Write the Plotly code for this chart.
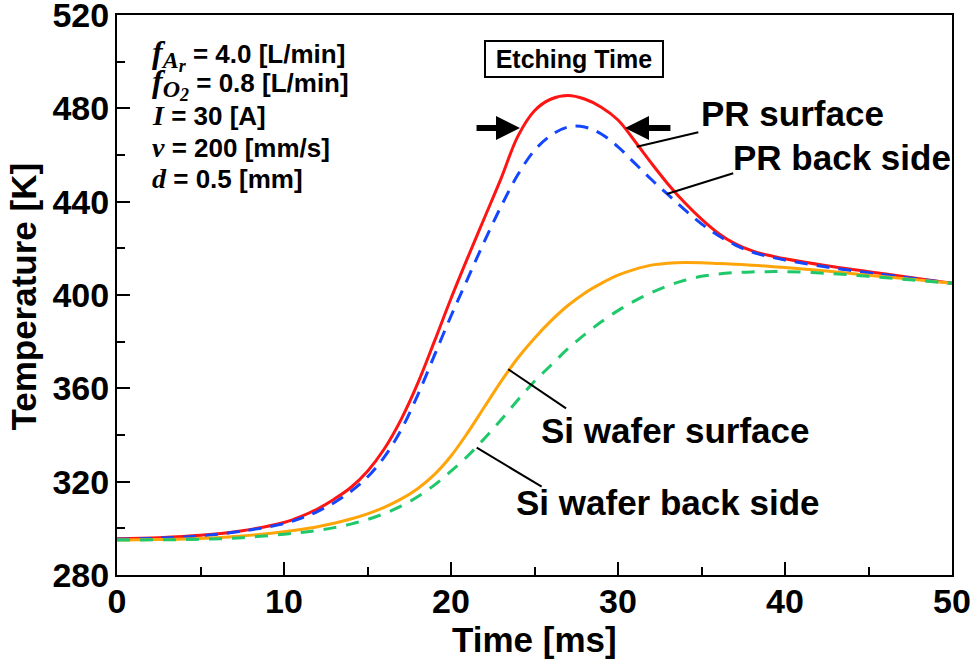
import plotly.graph_objects as go

# ---------------- data ----------------
t_pr_surface = [0, 2.5, 5, 7.5, 10, 11, 12, 13, 14, 15, 16, 17, 18, 19, 20, 21, 22, 23, 24, 25, 26, 27, 28, 29, 30, 31, 32, 33, 34, 35, 36, 37, 38, 39, 40, 42.5, 45, 47.5, 50]
T_pr_surface = [295.5, 296, 297, 299, 302.5, 305, 308.3, 312.5, 317.5, 324.5, 334, 346.5, 362, 380, 398.5, 416, 433, 450, 468, 479, 484, 485.5, 484, 480.5, 475, 466, 456.5, 447.5, 439.5, 432.5, 426.5, 422, 419, 417, 415.5, 412.5, 410, 407.5, 405]

t_pr_back = [0, 2.5, 5, 7.5, 10, 11, 12, 13, 14, 15, 16, 17, 18, 19, 20, 21, 22, 23, 24, 25, 26, 27, 28, 29, 30, 31, 32, 33, 34, 35, 36, 37, 38, 39, 40, 42.5, 45, 47.5, 50]
T_pr_back = [295.3, 295.8, 296.8, 298.8, 302, 304.3, 307.2, 311, 315.8, 322, 330.5, 342, 357, 374, 391, 407, 423, 438, 451.5, 462, 468.5, 472, 472, 469, 463.5, 456.5, 449.5, 443, 436.5, 430.5, 425.5, 421.5, 418.5, 416.5, 415, 412, 409.5, 407.3, 405]

t_si_surface = [0, 2.5, 5, 7.5, 10, 11, 12, 13, 14, 15, 16, 17, 18, 19, 20, 21, 22, 23, 24, 25, 26, 27, 28, 29, 30, 31, 32, 33, 34, 35, 36, 37, 38, 39, 40, 42.5, 45, 47.5, 50]
T_si_surface = [295, 295.2, 295.6, 296.7, 298.5, 299.5, 300.7, 302.2, 304, 306.2, 309, 312.5, 317, 323, 331, 341, 352, 363, 373, 381.5, 389, 395.5, 400.8, 405, 408.5, 411, 412.8, 413.6, 413.9, 413.8, 413.5, 413.2, 412.8, 412.3, 411.8, 410.3, 408.5, 406.8, 405]

t_si_back = [0, 2.5, 5, 7.5, 10, 11, 12, 13, 14, 15, 16, 17, 18, 19, 20, 21, 22, 23, 24, 25, 26, 27, 28, 29, 30, 31, 32, 33, 34, 35, 36, 37, 38, 39, 40, 42.5, 45, 47.5, 50]
T_si_back = [295, 295.1, 295.3, 296, 297.5, 298.2, 299.1, 300.3, 301.8, 303.8, 306.3, 309.5, 313.5, 318.5, 324.5, 331, 338.5, 346.5, 355, 363, 370, 377, 383, 388.5, 393.3, 397.5, 401, 404, 406.3, 408, 409, 409.6, 409.9, 410, 410, 409.3, 408, 406.5, 405]

x_ticks = [0, 10, 20, 30, 40, 50]
y_ticks = [280, 320, 360, 400, 440, 480, 520]

series_names = ["PR surface", "PR back side", "Si wafer surface", "Si wafer back side"]

SERIF = "font-family:'Liberation Serif'"
def m(ch, size):
    return "<span style=\"%s;font-size:%dpx\"><b><i>%s</i></b></span>" % (SERIF, size, ch)

param_lines = [
    m("f", 32) + "<sub>" + m("A", 24) + "<sub>" + m("r", 18) + "</sub></sub><b> = 4.0 [L/min]</b>",
    m("f", 32) + "<sub>" + m("O", 24) + "<sub>" + m("2", 18) + "</sub></sub><b> = 0.8 [L/min]</b>",
    m("I", 28) + "<b> = 30 [A]</b>",
    m("v", 28) + "<b> = 200 [mm/s]</b>",
    m("d", 28) + "<b> = 0.5 [mm]</b>",
]

FONT = "Liberation Sans"

fig = go.Figure()
fig.add_trace(go.Scatter(x=t_pr_surface, y=T_pr_surface, mode="lines", name=series_names[0],
                         line=dict(color="#ff1414", width=3, shape="spline", smoothing=1)))
fig.add_trace(go.Scatter(x=t_pr_back, y=T_pr_back, mode="lines", name=series_names[1],
                         line=dict(color="#1446ff", width=3, dash="13px,9px", shape="spline", smoothing=1)))
fig.add_trace(go.Scatter(x=t_si_surface, y=T_si_surface, mode="lines", name=series_names[2],
                         line=dict(color="#ffa50a", width=3, shape="spline", smoothing=1)))
fig.add_trace(go.Scatter(x=t_si_back, y=T_si_back, mode="lines", name=series_names[3],
                         line=dict(color="#1fc86a", width=3, dash="13px,10px", shape="spline", smoothing=1)))

axis_common = dict(
    showgrid=False, zeroline=False, showline=True, linecolor="black", linewidth=2,
    mirror=True, ticks="inside", ticklen=13, tickwidth=1.5, tickcolor="black",
    ticklabeloverflow="allow", automargin=False,
    tickfont=dict(family=FONT, size=34, color="black", weight="bold"),
)
fig.update_xaxes(range=[0, 50], tickvals=x_ticks, ticklabelstandoff=-5,
                 minor=dict(dtick=5, ticks="inside", ticklen=8, tickwidth=1.5, tickcolor="black"),
                 **axis_common)
fig.update_yaxes(range=[280, 520], tickvals=y_ticks, ticklabelstandoff=-1,
                 minor=dict(dtick=20, ticks="inside", ticklen=8, tickwidth=1.5, tickcolor="black"),
                 **axis_common)

annotations = []
# axis titles
annotations.append(dict(text="<b>Time [ms]</b>", xref="paper", yref="paper", x=0.5, y=-0.116,
                        xanchor="center", yanchor="middle", showarrow=False,
                        font=dict(family=FONT, size=35, color="black")))
annotations.append(dict(text="<b>Temperature [K]</b>", xref="paper", yref="paper", x=-0.112, y=0.498,
                        xanchor="center", yanchor="middle", showarrow=False, textangle=-90,
                        font=dict(family=FONT, size=35, color="black")))
# parameter block
param_y = [503.0, 490.6, 477.1, 463.4, 449.9]
for txt, yy in zip(param_lines, param_y):
    annotations.append(dict(text=txt, x=2.0, y=yy, xanchor="left", yanchor="middle", showarrow=False,
                            font=dict(family=FONT, size=26, color="black")))
# Etching Time box
annotations.append(dict(text="<b>Etching Time</b>", x=27.37, y=501.2, xanchor="center", yanchor="middle",
                        showarrow=False, bordercolor="black", borderwidth=2, borderpad=3,
                        bgcolor="white", width=170,
                        font=dict(family=FONT, size=25, color="black")))
# arrows
annotations.append(dict(text="", x=24.13, y=471.6, ax=21.44, ay=471.6, axref="x", ayref="y",
                        showarrow=True, arrowhead=2, arrowsize=0.8, arrowwidth=6, arrowcolor="black"))
annotations.append(dict(text="", x=30.42, y=471.6, ax=33.23, ay=471.6, axref="x", ayref="y",
                        showarrow=True, arrowhead=2, arrowsize=0.8, arrowwidth=6, arrowcolor="black"))
# curve labels
label_pos = [(40.42, 478.0), (43.41, 459.1), (33.41, 342.1), (32.99, 310.9)]
for name, (lx, ly) in zip(series_names, label_pos):
    annotations.append(dict(text="<b>%s</b>" % name, x=lx, y=ly, xanchor="center", yanchor="middle",
                            showarrow=False, font=dict(family=FONT, size=35, color="black")))

# leader lines
leaders = [
    (31.12, 463.56, 34.81, 469.73),
    (32.92, 443.29, 36.90, 452.16),
    (23.43, 368.16, 26.89, 351.44),
    (21.54, 334.56, 25.43, 317.84),
]
shapes = [dict(type="line", x0=a, y0=b, x1=c, y1=d, xref="x", yref="y",
               line=dict(color="black", width=2)) for a, b, c, d in leaders]

fig.update_layout(
    width=975, height=672,
    margin=dict(l=117, r=23, t=15, b=97),
    paper_bgcolor="white", plot_bgcolor="white",
    showlegend=False,
    annotations=annotations,
    shapes=shapes,
    font=dict(family=FONT, color="black"),
)

fig.write_html("out.html")
